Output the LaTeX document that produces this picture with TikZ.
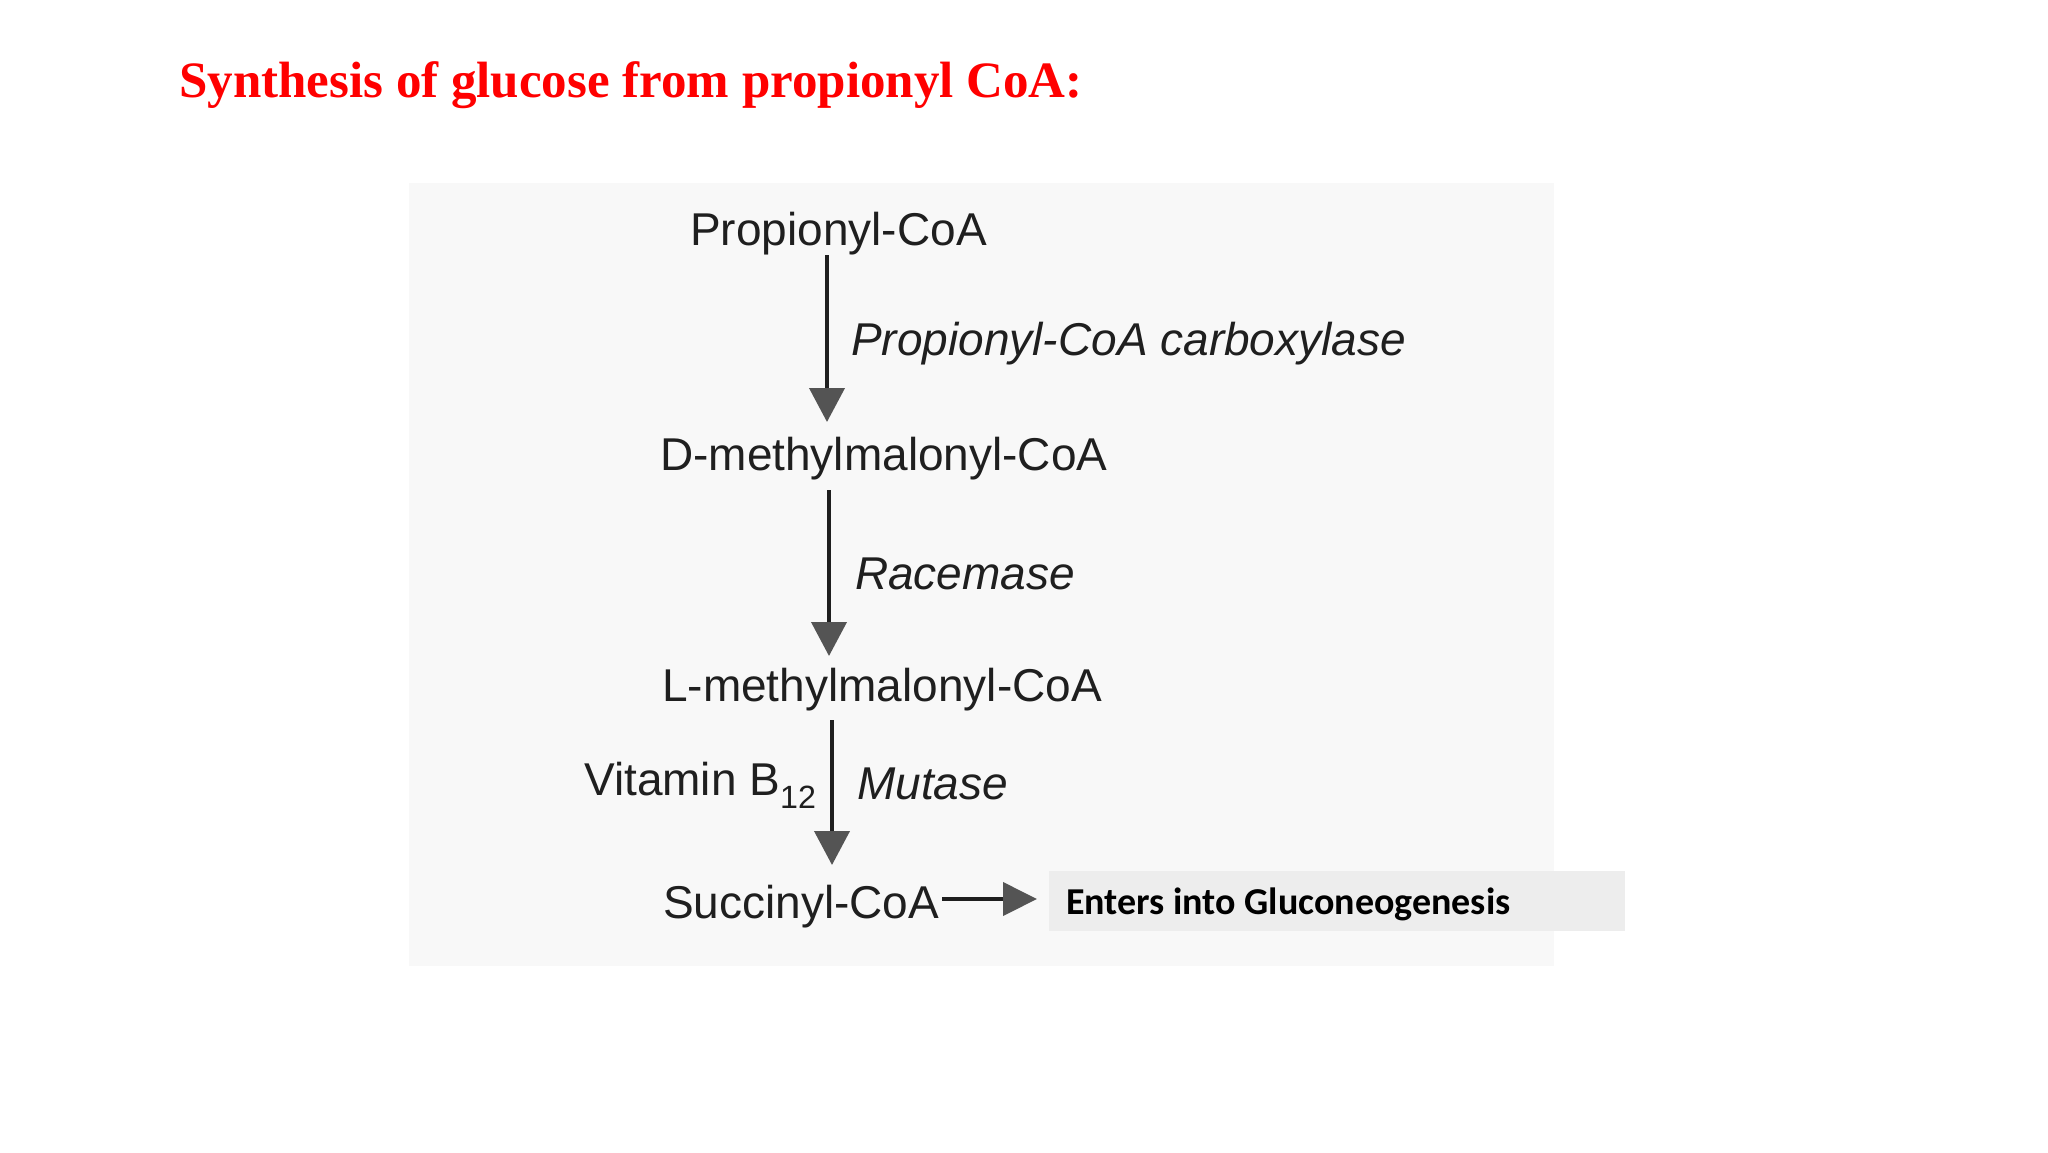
\documentclass[tikz,border=0pt]{standalone}
\usepackage{fontspec}
\setmainfont{Liberation Sans}
\newfontfamily\titlefont{Liberation Serif}
\newfontfamily\calfont{Carlito}
\usetikzlibrary{arrows.meta}
\definecolor{ink}{gray}{0.12}
\definecolor{headgray}{gray}{0.33}
\definecolor{scanbg}{gray}{0.972}
\definecolor{boxbg}{gray}{0.93}
\tikzset{
  metab/.style={anchor=base west, inner sep=0pt, text=ink, font=\fontsize{46}{55}\selectfont},
  enzyme/.style={anchor=base west, inner sep=0pt, text=ink, font=\fontsize{46}{55}\selectfont\itshape},
  rxn/.style={draw=ink, line width=4pt, -{Triangle[length=34pt,width=35pt,color=headgray]}},
  rxnh/.style={draw=ink, line width=4pt, -{Triangle[length=34pt,width=33pt,color=headgray]}},
}
\begin{document}
\begin{tikzpicture}[x=1pt,y=-1pt]
\useasboundingbox (0,0) rectangle (2048,1152);
\fill[white] (0,0) rectangle (2048,1152);
% scanned page background
\fill[scanbg] (409,183) rectangle (1554,966);
% title
\node[anchor=base west, inner sep=0pt, text=red, font=\titlefont\bfseries\fontsize{51}{60}\selectfont] (title) at (179,97) {Synthesis of glucose from propionyl CoA:};
% metabolites
\node[metab] (prop) at (690,245) {Propionyl-CoA};
\node[metab] (dmm) at (660,470) {D-methylmalonyl-CoA};
\node[metab] (lmm) at (662,701) {L-methylmalonyl-CoA};
\node[metab] (succ) at (663,918) {Succinyl-CoA};
% enzymes
\node[enzyme] (pcc) at (851,355) {Propionyl-CoA carboxylase};
\node[enzyme] (rac) at (855,589) {Racemase};
\node[enzyme] (mut) at (857,799) {Mutase};
\node[metab] (b12) at (584,795) {Vitamin B$_{\mathrm{12}}$};
% gluconeogenesis box
\node[anchor=west, inner sep=0pt, minimum width=576pt, minimum height=60pt, fill=boxbg] (gbox) at (1049,901) {};
\node[anchor=base west, inner sep=0pt, font=\calfont\bfseries\fontsize{38}{46}\selectfont, text=black] (gtext) at (1066,914) {Enters into Gluconeogenesis};
% arrow end points
\coordinate (a1s) at (827,255);
\coordinate (a1e) at (827,422);
\coordinate (a2s) at (829,490);
\coordinate (a2e) at (829,656);
\coordinate (a3s) at (832,720);
\coordinate (a3e) at (832,865);
\coordinate (a4s) at (942,899);
\coordinate (a4e) at (1037,899);
\draw[rxn] (a1s) -- (a1e);
\draw[rxn] (a2s) -- (a2e);
\draw[rxn] (a3s) -- (a3e);
\draw[rxnh] (a4s) -- (a4e);
\end{tikzpicture}
\end{document}
